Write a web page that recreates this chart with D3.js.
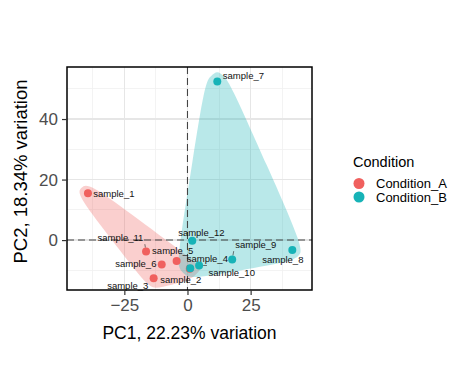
<!DOCTYPE html>
<meta charset="utf-8">
<style>
body { margin: 0; background: #fff; }
svg { font-family: "Liberation Sans", Arial, sans-serif; }
.grid line { shape-rendering: crispEdges; }
.axis text { fill: #4d4d4d; }
.axis line { stroke: #333; }
.lab { font-size: 9.5px; fill: #111; }
</style>
<body>
<script src="https://cdn.jsdelivr.net/npm/d3@7/dist/d3.min.js"></script>
<script>
// PCA biplot, samples coloured by condition
var samples   = ["sample_1","sample_2","sample_3","sample_4","sample_5","sample_6",
                 "sample_7","sample_8","sample_9","sample_10","sample_11","sample_12"];
var condition = ["Condition_A","Condition_A","Condition_A","Condition_B","Condition_A","Condition_A",
                 "Condition_B","Condition_B","Condition_B","Condition_B","Condition_A","Condition_B"];
var pc1 = [-39.4, 0.9, -13.4, 1.1, -4.3, -10.2, 11.8, 41.5, 17.7, 4.6, -16.4, 1.9];
var pc2 = [15.5, -9.5, -12.6, -9.3, -6.9, -8.1, 52.4, -3.3, -6.4, -8.4, -3.8, -0.2];

// where the repelled labels ended up (left edge, middle), in PC units
var labelPC1 = [-37.3, -10.8, -31.8, -0.3, -14.0, -28.6, 14.0, 29.6, 18.9, 8.3, -35.6, -3.7];
var labelPC2 = [15.5, -13.0, -15.0, -6.0, -3.5, -7.8, 54.3, -6.6, -1.4, -10.7, 0.9, 2.4];

var groups = ["Condition_A", "Condition_B"];
var groupColors = ["#f0605e", "#17b3b7"];
var xTicks = [-25, 0, 25];
var yTicks = [0, 20, 40];
var xDomain = [-47.7, 49.3];
var yDomain = [-16.5, 57.2];
var xTitle = "PC1, 22.23% variation";
var yTitle = "PC2, 18.34% variation";
var legendTitle = "Condition";

var margin = {top: 67, left: 67},
    width = 245,
    height = 223;

var svg = d3.select("body").append("svg")
    .attr("width", 474)
    .attr("height", 381);

var g = svg.append("g")
    .attr("transform", "translate(" + margin.left + "," + margin.top + ")");

var x = d3.scaleLinear().domain(xDomain).range([0, width]);
var y = d3.scaleLinear().domain(yDomain).range([height, 0]);
var color = d3.scaleOrdinal().domain(groups).range(groupColors);

// minor grid = midpoints between major ticks
function minors(ticks, dom) {
  var step = ticks[1] - ticks[0], out = [];
  for (var v = ticks[0] - step / 2; v <= dom[1]; v += step) if (v >= dom[0]) out.push(v);
  for (v = ticks[0] - step * 1.5; v >= dom[0]; v -= step) out.push(v);
  return out;
}

var grid = g.append("g").attr("class", "grid");
grid.selectAll(".vmin").data(minors(xTicks, xDomain)).enter().append("line")
    .attr("x1", x).attr("x2", x).attr("y1", 0).attr("y2", height)
    .attr("stroke", "#f0f0f0").attr("stroke-width", 0.8);
grid.selectAll(".hmin").data(minors(yTicks, yDomain)).enter().append("line")
    .attr("y1", y).attr("y2", y).attr("x1", 0).attr("x2", width)
    .attr("stroke", "#f0f0f0").attr("stroke-width", 0.8);
grid.selectAll(".vmaj").data(xTicks).enter().append("line")
    .attr("x1", x).attr("x2", x).attr("y1", 0).attr("y2", height)
    .attr("stroke", "#e6e6e6").attr("stroke-width", 1.3);
grid.selectAll(".hmaj").data(yTicks).enter().append("line")
    .attr("y1", y).attr("y2", y).attr("x1", 0).attr("x2", width)
    .attr("stroke", "#e6e6e6").attr("stroke-width", 1.3);

var data = samples.map(function(s, i) {
  return {name: s, cond: condition[i], px: x(pc1[i]), py: y(pc2[i]),
          lx: x(labelPC1[i]), ly: y(labelPC2[i])};
});

// encircle: hull of little diamonds around each point, then smoothed
var ex = width * 0.05, ey = height * 0.05;
var hullLine = d3.line().curve(d3.curveBasisClosed);
groups.forEach(function(gr) {
  var pts = [];
  data.filter(function(d) { return d.cond === gr; }).forEach(function(d) {
    pts.push([d.px - ex, d.py], [d.px + ex, d.py],
             [d.px, d.py - ey], [d.px, d.py + ey]);
  });
  var hull = d3.polygonHull(pts), dense = [];
  hull.forEach(function(p, i) {
    var q = hull[(i + 1) % hull.length];
    dense.push(p, [(p[0] + q[0]) / 2, (p[1] + q[1]) / 2]);
  });
  g.append("path")
      .attr("d", hullLine(dense))
      .attr("fill", color(gr))
      .attr("fill-opacity", 0.3);
});

// zero lines
g.append("line")
    .attr("x1", x(0)).attr("x2", x(0)).attr("y1", 0).attr("y2", height)
    .attr("stroke", "#444").attr("stroke-width", 1.1).attr("stroke-dasharray", "7,4");
g.append("line")
    .attr("y1", y(0)).attr("y2", y(0)).attr("x1", 0).attr("x2", width)
    .attr("stroke", "#444").attr("stroke-width", 1.1).attr("stroke-dasharray", "7,4");

// labels first so we can measure them for the connectors
var labs = g.append("g").selectAll("text").data(data).enter().append("text")
    .attr("class", "lab")
    .attr("x", function(d) { return d.lx; })
    .attr("y", function(d) { return d.ly; })
    .attr("dy", "0.35em")
    .text(function(d) { return d.name; });

var conn = g.insert("g", "g:last-of-type");
labs.each(function(d) {
  var b = this.getBBox(), pad = 1.5;
  var cx = Math.max(b.x - pad, Math.min(d.px, b.x + b.width + pad));
  var cy = Math.max(b.y - pad, Math.min(d.py, b.y + b.height + pad));
  var dx = cx - d.px, dy = cy - d.py, len = Math.sqrt(dx * dx + dy * dy);
  if (len > 7) {
    conn.append("line")
        .attr("x1", d.px + dx / len * 4).attr("y1", d.py + dy / len * 4)
        .attr("x2", cx).attr("y2", cy)
        .attr("stroke", "#222").attr("stroke-width", 0.6);
  }
});

g.append("g").selectAll("circle").data(data).enter().append("circle")
    .attr("cx", function(d) { return d.px; })
    .attr("cy", function(d) { return d.py; })
    .attr("r", 4)
    .attr("fill", function(d) { return color(d.cond); });

// panel border
g.append("rect")
    .attr("width", width).attr("height", height)
    .attr("fill", "none").attr("stroke", "#000").attr("stroke-width", 1.5);

// axes
var xAxis = g.append("g").attr("class", "axis")
    .attr("transform", "translate(0," + height + ")")
    .call(d3.axisBottom(x).tickValues(xTicks).tickSize(5).tickPadding(4).tickFormat(d3.format("d")));
var yAxis = g.append("g").attr("class", "axis")
    .call(d3.axisLeft(y).tickValues(yTicks).tickSize(5).tickPadding(4).tickFormat(d3.format("d")));
[xAxis, yAxis].forEach(function(a) {
  a.select(".domain").remove();
  a.selectAll("line").attr("stroke-width", 1.2);
  a.selectAll("text").attr("font-size", 17).attr("font-family", null);
});

g.append("text")
    .attr("x", width / 2).attr("y", height + 49)
    .attr("text-anchor", "middle").attr("font-size", 17.5)
    .text(xTitle);
g.append("text")
    .attr("transform", "translate(-40," + (height / 2 - 7) + ") rotate(-90)")
    .attr("text-anchor", "middle").attr("font-size", 18.5)
    .text(yTitle);

// legend
var legend = svg.append("g").attr("transform", "translate(353,0)");
legend.append("text")
    .attr("x", 0).attr("y", 167)
    .attr("font-size", 14.5)
    .text(legendTitle);
var item = legend.selectAll(".item").data(groups).enter().append("g")
    .attr("transform", function(d, i) { return "translate(0," + (183.5 + i * 13.5) + ")"; });
item.append("circle")
    .attr("cx", 6).attr("r", 5.5)
    .attr("fill", color);
item.append("text")
    .attr("x", 23).attr("dy", "0.35em")
    .attr("font-size", 13)
    .text(function(d) { return d; });
</script>
